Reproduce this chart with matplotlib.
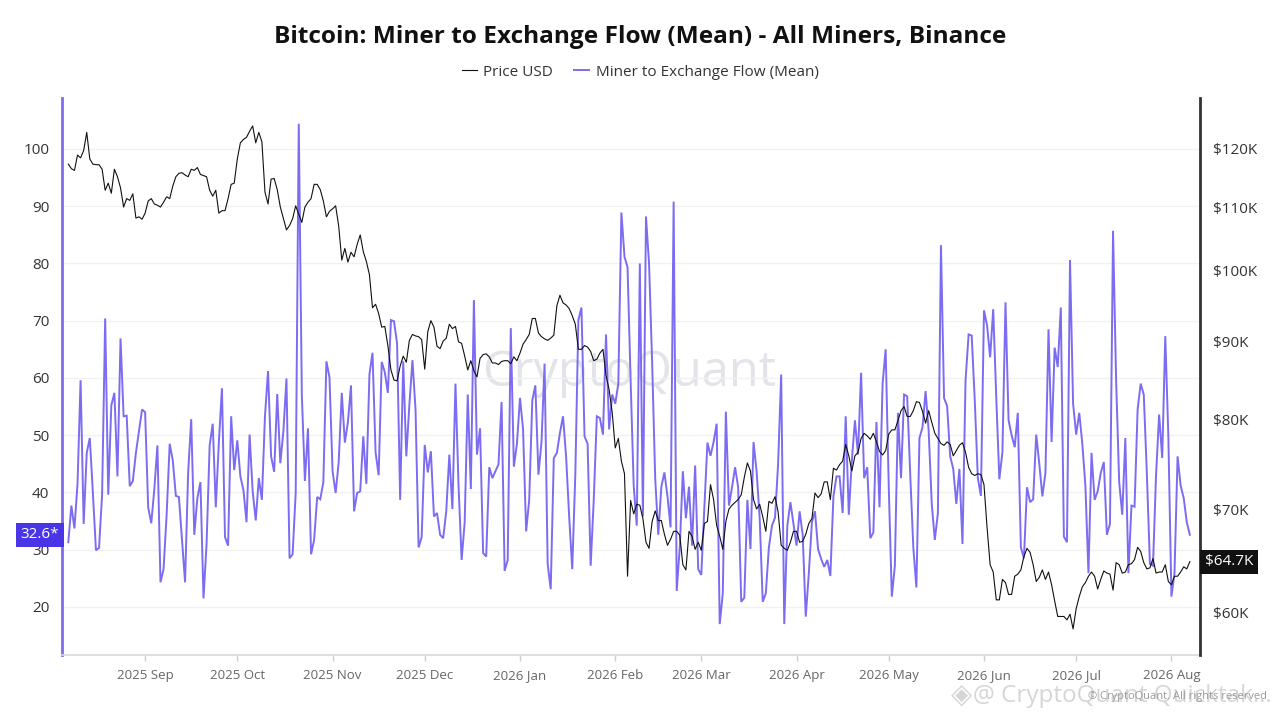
import numpy as np
import pandas as pd
import matplotlib
matplotlib.use('Agg')
import matplotlib.pyplot as plt
import matplotlib.dates as mdates
import matplotlib.transforms as mtransforms
from matplotlib.ticker import FixedLocator, FuncFormatter, NullLocator
from matplotlib.lines import Line2D

# ---------------- data ----------------
start_date = '2025-08-07'

price_k = [
    117.3, 116.5, 116.2, 118.9, 118.4, 119.7, 123.0, 118.2, 117.3, 117.2,
    117.2, 116.4, 112.8, 114.0, 112.3, 116.4, 115.1, 113.2, 110.0, 111.4,
    111.1, 112.2, 108.2, 108.4, 108.0, 109.0, 111.0, 111.4, 110.5, 110.3,
    110.0, 110.8, 111.7, 111.4, 113.5, 115.1, 115.7, 115.8, 115.4, 115.1,
    116.4, 116.2, 116.7, 115.5, 115.3, 115.1, 112.8, 111.8, 112.8, 109.0,
    109.4, 109.4, 111.4, 113.8, 114.0, 118.2, 121.1, 121.7, 122.1, 123.2,
    124.2, 121.1, 123.0, 121.3, 112.5, 110.5, 114.7, 114.8, 112.9, 110.0,
    108.1, 106.3, 107.0, 108.1, 110.2, 108.8, 107.5, 110.0, 110.8, 111.4,
    113.8, 113.8, 112.9, 111.0, 108.4, 109.3, 109.7, 110.2, 106.9, 101.6,
    103.4, 101.3, 102.8, 102.1, 104.0, 105.5, 102.9, 101.4, 99.4, 94.6,
    95.1, 93.8, 91.9, 92.0, 89.4, 86.2, 84.9, 84.8, 86.7, 88.0,
    87.2, 90.1, 90.9, 90.7, 90.6, 90.2, 86.3, 91.3, 92.8, 91.9,
    89.3, 89.0, 90.0, 90.4, 92.3, 91.7, 92.0, 89.9, 89.7, 88.0,
    86.2, 87.4, 86.1, 85.3, 87.7, 88.2, 88.3, 87.9, 87.1, 87.1,
    86.9, 87.3, 87.4, 87.4, 87.0, 87.9, 87.4, 88.4, 89.6, 90.2,
    90.9, 93.1, 93.1, 91.1, 90.6, 90.3, 90.1, 90.4, 90.8, 94.9,
    96.4, 95.3, 95.0, 94.5, 93.5, 92.3, 88.9, 88.9, 89.4, 89.2,
    88.6, 87.4, 87.6, 88.4, 88.9, 85.5, 83.7, 80.9, 76.7, 77.8,
    75.2, 73.8, 63.3, 70.9, 69.5, 70.5, 70.4, 69.0, 66.6, 66.0,
    68.7, 69.8, 68.8, 68.8, 67.4, 66.3, 66.9, 67.7, 67.7, 67.3,
    64.4, 63.9, 67.7, 67.2, 65.9, 66.6, 65.8, 68.5, 68.7, 72.6,
    71.0, 68.3, 67.2, 65.9, 68.7, 70.0, 70.4, 70.7, 71.0, 71.5,
    73.4, 75.0, 74.1, 71.0, 70.0, 70.5, 69.2, 67.7, 70.8, 70.6,
    71.3, 69.7, 66.3, 66.0, 65.8, 66.6, 67.7, 67.7, 66.6, 66.7,
    67.4, 68.5, 69.0, 71.7, 71.2, 71.6, 72.9, 72.9, 71.0, 74.4,
    74.2, 74.8, 75.2, 77.1, 75.8, 74.1, 75.8, 76.2, 77.8, 78.4,
    78.1, 77.7, 78.4, 77.4, 76.3, 75.9, 76.4, 78.3, 78.8, 78.8,
    79.9, 81.1, 81.6, 80.4, 80.4, 81.1, 82.2, 82.1, 81.0, 79.6,
    81.1, 79.7, 78.4, 77.8, 77.2, 77.0, 77.4, 77.1, 75.8, 76.4,
    77.0, 77.3, 76.2, 74.5, 73.8, 73.6, 73.8, 73.7, 72.6, 68.1,
    64.4, 63.7, 61.1, 61.1, 63.0, 62.7, 61.6, 61.6, 63.3, 63.5,
    63.9, 65.2, 66.0, 65.6, 64.4, 62.8, 63.2, 63.9, 63.0, 63.7,
    62.5, 61.0, 59.6, 59.6, 59.6, 59.3, 59.8, 58.5, 60.3, 61.4,
    62.3, 62.7, 63.3, 63.7, 63.3, 62.1, 63.0, 63.8, 63.6, 63.5,
    62.0, 64.6, 64.4, 63.6, 63.7, 64.4, 64.5, 64.9, 66.1, 65.7,
    64.6, 64.0, 64.1, 65.0, 63.6, 63.7, 63.7, 64.4, 62.8, 62.5,
    63.3, 63.3, 63.7, 64.2, 64.0, 64.7,
]

flow_mean = [
    31.3, 37.7, 33.7, 41.5, 59.6, 34.5, 46.9, 49.5, 39.9, 29.9,
    30.3, 39.6, 70.4, 39.6, 55.2, 57.4, 42.8, 66.9, 53.3, 53.4,
    41.1, 42.0, 46.9, 50.7, 54.5, 54.0, 37.4, 34.6, 40.6, 48.2,
    24.3, 26.6, 36.1, 48.5, 45.6, 39.4, 39.2, 31.7, 24.3, 43.4,
    52.8, 32.6, 39.0, 41.8, 21.5, 31.0, 48.2, 52.0, 37.4, 48.8,
    58.2, 32.2, 30.7, 53.3, 43.9, 49.1, 42.8, 40.4, 34.8, 50.1,
    40.2, 35.1, 42.5, 38.7, 53.3, 61.2, 46.3, 43.6, 57.2, 45.1,
    50.7, 59.9, 28.5, 29.2, 39.9, 104.4, 57.1, 42.0, 51.2, 29.2,
    31.7, 39.2, 38.8, 41.8, 62.9, 60.1, 43.7, 39.9, 45.3, 57.4,
    48.7, 52.3, 58.7, 36.7, 39.9, 40.2, 49.8, 41.5, 60.6, 64.4,
    47.0, 43.0, 62.8, 61.0, 57.4, 70.1, 69.9, 66.0, 38.7, 62.9,
    46.3, 55.3, 63.1, 54.5, 30.4, 32.2, 48.3, 43.5, 47.2, 35.8,
    36.4, 32.6, 32.0, 36.7, 46.6, 37.1, 59.0, 41.2, 28.2, 34.8,
    57.1, 40.6, 73.6, 46.6, 51.2, 29.4, 28.8, 44.4, 42.5, 43.7,
    44.9, 55.8, 26.3, 28.2, 68.7, 44.5, 48.5, 56.5, 51.0, 33.2,
    38.7, 56.1, 58.7, 43.1, 48.8, 62.5, 27.5, 23.1, 46.0, 46.9,
    50.4, 53.3, 46.3, 35.8, 26.6, 43.1, 70.1, 72.3, 49.8, 48.5,
    27.2, 38.7, 53.3, 53.0, 50.1, 67.6, 51.0, 57.1, 55.5, 59.0,
    88.9, 81.2, 79.3, 59.6, 41.2, 34.2, 80.0, 35.8, 88.2, 80.0,
    62.8, 42.5, 32.6, 41.0, 43.5, 39.3, 33.9, 90.8, 22.8, 30.4,
    43.7, 35.5, 41.0, 30.7, 44.7, 26.6, 25.6, 37.4, 48.7, 46.4,
    48.8, 52.0, 17.0, 22.4, 54.1, 37.7, 40.9, 44.4, 40.9, 20.9,
    21.6, 38.7, 30.1, 48.8, 43.7, 35.5, 20.9, 22.4, 30.4, 34.2,
    35.6, 45.0, 60.6, 17.0, 34.2, 38.3, 34.5, 30.7, 36.7, 32.6,
    18.3, 25.9, 34.8, 36.7, 30.1, 28.4, 27.0, 28.2, 25.4, 39.3,
    42.8, 42.8, 36.4, 53.3, 36.1, 45.6, 52.6, 46.6, 60.9, 42.5,
    44.4, 32.0, 33.0, 52.3, 37.4, 59.0, 65.0, 41.2, 21.8, 27.2,
    53.9, 42.5, 57.1, 56.8, 43.1, 30.4, 23.4, 49.5, 51.4, 57.7,
    50.7, 38.0, 31.7, 36.4, 83.2, 56.5, 55.1, 46.3, 44.1, 38.0,
    44.1, 31.0, 59.6, 67.6, 67.4, 56.1, 42.5, 39.4, 71.8, 69.2,
    63.6, 72.0, 56.5, 42.3, 47.0, 73.2, 52.6, 50.0, 47.9, 53.9,
    30.4, 28.5, 40.9, 38.3, 38.8, 50.1, 45.0, 39.3, 43.4, 68.5,
    48.8, 65.3, 61.9, 72.3, 32.3, 31.3, 80.6, 55.5, 50.1, 53.9,
    48.5, 41.2, 25.9, 46.9, 38.7, 40.2, 43.4, 45.3, 32.6, 34.5,
    85.7, 59.6, 41.8, 36.1, 49.5, 25.9, 37.7, 37.5, 54.5, 59.0,
    57.1, 43.4, 27.5, 27.2, 43.1, 53.6, 46.0, 67.3, 49.8, 21.8,
    25.9, 46.3, 41.2, 39.0, 34.8, 32.6,
]

left_ticks = [20, 30, 40, 50, 60, 70, 80, 90, 100]
right_ticks_k = [60, 70, 80, 90, 100, 110, 120]

title = 'Bitcoin: Miner to Exchange Flow (Mean) - All Miners, Binance'
legend_labels = ['Price USD', 'Miner to Exchange Flow (Mean)']

# ---------------- style ----------------
plt.rcParams['font.family'] = ['Open Sans', 'DejaVu Sans']
FLOW_C = '#7b6cf2'
PRICE_C = '#111111'

dates = pd.date_range(start_date, periods=len(flow_mean), freq='D')
price_usd = np.array(price_k) * 1000.0

fig = plt.figure(figsize=(12.8, 7.2), dpi=100)
fig.patch.set_facecolor('white')
ax = fig.add_axes([62 / 1280, 65 / 720, 1138 / 1280, 557 / 720])
ax2 = ax.twinx()

# flow on the left axis
ax.plot(dates, flow_mean, color=FLOW_C, lw=1.4, zorder=3, solid_joinstyle='miter')
ax.set_ylim(11.6, 108.9)
ax.yaxis.set_major_locator(FixedLocator(left_ticks))
ax.yaxis.set_minor_locator(NullLocator())
ax.yaxis.grid(True, color='#f1f1f1', lw=1.0)
ax.set_axisbelow(True)

# price on the right (log) axis
ax2.plot(dates, price_usd, color=PRICE_C, lw=0.8, zorder=4)
ax2.set_yscale('log')
ax2.set_ylim(56260, 129500)
ax2.yaxis.set_major_locator(FixedLocator([v * 1000 for v in right_ticks_k]))
ax2.yaxis.set_minor_locator(NullLocator())
ax2.yaxis.set_major_formatter(FuncFormatter(lambda v, p: f'${v/1000:.0f}K'))

x0 = dates[0] - pd.Timedelta(days=2.05)
x1 = dates[0] + pd.Timedelta(days=368.3)
ax.set_xlim(x0, x1)
ax.xaxis.set_major_locator(mdates.MonthLocator())
ax.xaxis.set_major_formatter(mdates.DateFormatter('%Y %b'))

ax.tick_params(axis='x', colors='#cfcfcf', length=4, width=1, labelcolor='#666666',
               labelsize=9.5, pad=6)
ax.tick_params(axis='y', length=0, labelsize=11, labelcolor='#333333', pad=9)
ax2.tick_params(axis='y', which='both', length=0, labelsize=11, labelcolor='#333333', pad=9)

for s in ['top', 'right']:
    ax.spines[s].set_visible(False)
ax.spines['left'].set_color(FLOW_C)
ax.spines['left'].set_linewidth(2.0)
ax.spines['bottom'].set_color('#d9d9de')
ax.spines['bottom'].set_linewidth(1.2)
for s in ['top', 'left', 'bottom']:
    ax2.spines[s].set_visible(False)
ax2.spines['right'].set_color('#333333')
ax2.spines['right'].set_linewidth(2.0)

# watermark
ax.text(0.499, 0.506, 'CryptoQuant', transform=ax.transAxes, ha='center', va='center',
        fontsize=35, color='#e3e3ea', zorder=0, fontweight='medium')

# value badges
trL = mtransforms.blended_transform_factory(ax.transAxes, ax.transData)
ax.text(-0.0025, flow_mean[-1], f'{flow_mean[-1]:.1f}*', transform=trL, ha='right', va='center',
        fontsize=11, color='white', clip_on=False, zorder=10,
        bbox=dict(boxstyle='square,pad=0.3', fc='#4a34e8', ec='none'))
trR = mtransforms.blended_transform_factory(ax2.transAxes, ax2.transData)
ax2.text(1.004, price_usd[-1], f'${price_k[-1]:.1f}K', transform=trR, ha='left', va='center',
         fontsize=11, color='white', clip_on=False, zorder=10,
         bbox=dict(boxstyle='square,pad=0.3', fc='#111111', ec='none'))

# title & legend
fig.text(0.5, 1 - 37 / 720, title, ha='center', va='center', fontsize=17.6,
         fontweight='bold', color='#111111')
handles = [Line2D([], [], color=PRICE_C, lw=0.8), Line2D([], [], color=FLOW_C, lw=1.4)]
leg = fig.legend(handles, legend_labels, loc='center', bbox_to_anchor=(0.5, 1 - 72 / 720),
                 ncol=2, frameon=False, fontsize=11, handlelength=1.0, handletextpad=0.4,
                 columnspacing=1.4)
for t in leg.get_texts():
    t.set_color('#333333')

# footer overlays
fig.text(962 / 1280, 1 - 695 / 720, '\u25c8', ha='center', va='center',
         fontsize=20, color='#d6d6d6', family='DejaVu Sans')
fig.text(1272 / 1280, 1 - 696 / 720, '@ CryptoQuant Quicktak\u2026', ha='right', va='center',
         fontsize=17.5, color='#cfcfcf', alpha=0.85)
fig.text(1088 / 1280, 1 - 697 / 720, '\u00a9 CryptoQuant. All rights reserved', ha='left',
         va='center', fontsize=8, color='#9a9a9a')

fig.savefig('out.png', dpi=100, facecolor='white')
